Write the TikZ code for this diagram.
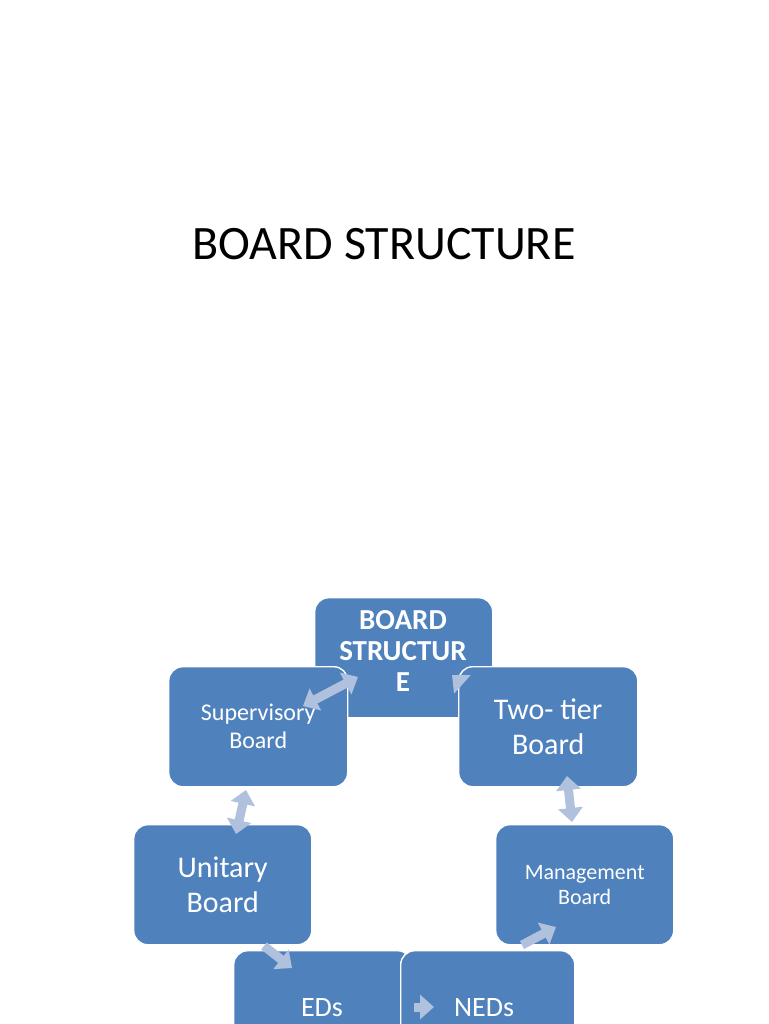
\documentclass[tikz,border=0pt]{standalone}
\usepackage{fontspec}
\setmainfont{Carlito}
\usetikzlibrary{arrows.meta}
\definecolor{boxblue}{HTML}{4F81BD}
\definecolor{arrblue}{HTML}{B0C1DE}
\begin{document}
\begin{tikzpicture}[x=0.5pt,y=-0.5pt,
  box/.style={draw=white,line width=0.7pt,fill=boxblue,rounded corners=7pt,text=white,align=center,anchor=north west,inner sep=0pt},
  conn/.style={draw=arrblue,line width=4.5pt,-{Triangle[length=7pt,width=12pt]}},
  dconn/.style={conn,{Triangle[length=7pt,width=12pt]}-{Triangle[length=7pt,width=12pt]}}]
\path[use as bounding box,fill=white] (0,0) rectangle (768,1024);
\begin{scope}
\clip (0,0) rectangle (768,1024);
\node[font=\fontsize{24}{28}\selectfont] (title) at (384,244) {BOARD STRUCTURE};
\node[box,minimum width=89pt,minimum height=60pt,font=\bfseries\fontsize{14}{16}\selectfont,text depth=0pt] (bs) at (314,597) {};
\node[text=white,font=\bfseries\fontsize{14.5}{15.5}\selectfont,align=center] (bst) at (403,651) {BOARD\\STRUCTUR\\E};
\node[box,minimum width=89.5pt,minimum height=60pt,font=\fontsize{12}{14}\selectfont] (sup) at (168,666) {Supervisory\\Board};
\node[box,minimum width=89.5pt,minimum height=60pt,font=\fontsize{15}{17.5}\selectfont] (two) at (458,666) {Two- tier\\Board};
\node[box,minimum width=89pt,minimum height=60pt,font=\fontsize{15}{17.5}\selectfont] (uni) at (133,824) {Unitary\\Board};
\node[box,minimum width=89pt,minimum height=60pt,font=\fontsize{11}{12.5}\selectfont] (man) at (495,824) {Management\\Board};
\node[box,minimum width=89pt,minimum height=60pt] (eds) at (233,950) {};
\node[box,minimum width=87pt,minimum height=60pt] (neds) at (400,950) {};
\node[text=white,font=\fontsize{14}{16}\selectfont] (edst) at (322,1008) {EDs};
\node[text=white,font=\fontsize{14}{16}\selectfont] (nedst) at (484,1008) {NEDs};
\coordinate (a1) at (303,706); \coordinate (a2) at (358,677);
\draw[dconn] (a1) -- (a2);
\coordinate (b1) at (246,790); \coordinate (b2) at (236,834);
\draw[dconn] (b1) -- (b2);
\coordinate (c1) at (264,946); \coordinate (c2) at (292,968);
\draw[conn] (c1) -- (c2);
\coordinate (d1) at (414,1007); \coordinate (d2) at (434,1007);
\draw[conn] (d1) -- (d2);
\coordinate (e1) at (522,945); \coordinate (e2) at (556,927);
\draw[conn] (e1) -- (e2);
\coordinate (f1) at (567,776); \coordinate (f2) at (572,822);
\draw[dconn] (f1) -- (f2);
\coordinate (g1) at (462,684); \coordinate (g2) at (452,675);
\draw[conn] (g1) -- (g2);
\end{scope}
\end{tikzpicture}
\end{document}
